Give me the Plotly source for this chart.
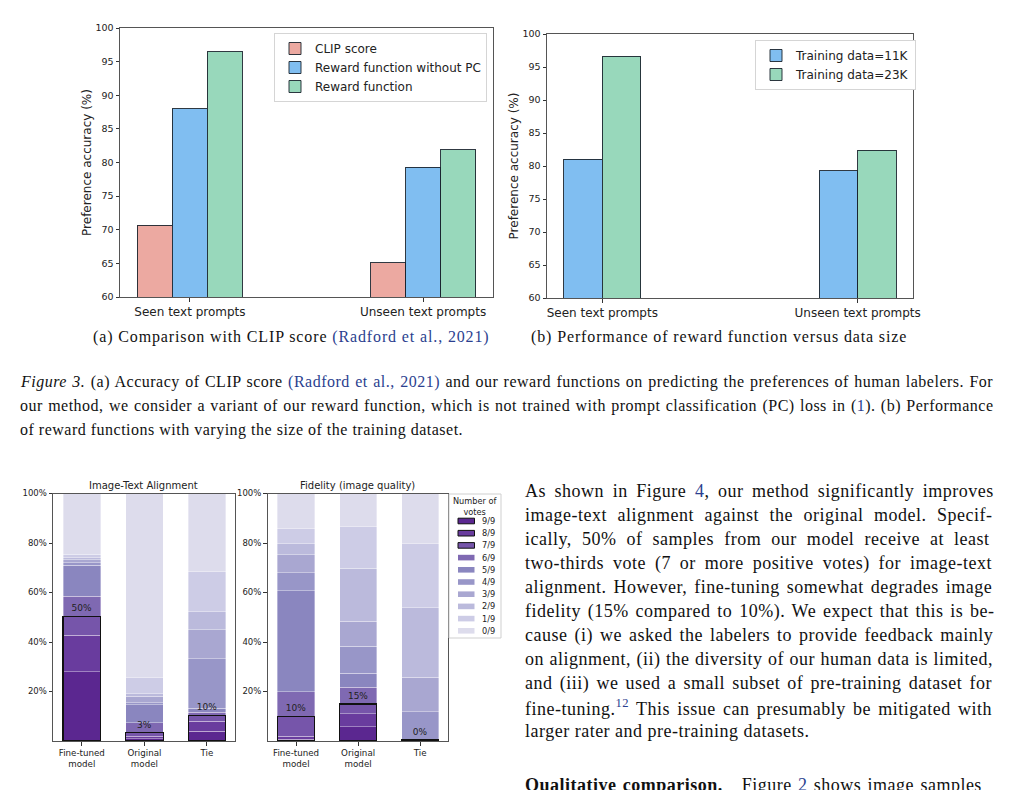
import plotly.graph_objects as go

# page is 1013x790; the html body adds an 8px margin, so the figure is placed at (8, 8)
PAGE_W, PAGE_H, OFF = 1013, 790, 8
W, H = PAGE_W - OFF, PAGE_H - OFF

# ---------------- data ----------------
# (a) Comparison with CLIP score
prompt_groups = ["Seen text prompts", "Unseen text prompts"]
clip_score = [70.7, 65.1]
reward_no_pc = [88.0, 79.3]
reward_fn = [96.5, 81.9]

# (b) Performance versus data size
data_11k = [81.0, 79.3]
data_23k = [96.6, 82.4]

# Figure 4: vote distributions, ordered 9/9 ... 0/9 (percent)
vote_labels = ["9/9", "8/9", "7/9", "6/9", "5/9", "4/9", "3/9", "2/9", "1/9", "0/9"]
model_labels = ["Fine-tuned<br>model", "Original<br>model", "Tie"]
align_finetuned = [28.0, 14.8, 7.6, 8.0, 12.6, 1.0, 1.3, 0.8, 1.4, 24.5]
align_original = [1.0, 1.0, 1.3, 4.0, 7.4, 0.8, 2.6, 0.9, 6.5, 74.5]
align_tie = [4.0, 3.9, 2.5, 1.2, 1.6, 20.1, 11.7, 7.3, 16.0, 31.7]
fid_finetuned = [0.8, 1.2, 8.0, 10.0, 40.8, 7.1, 7.3, 4.6, 6.0, 14.2]
fid_original = [5.7, 5.3, 4.0, 6.7, 5.7, 10.9, 10.1, 21.5, 16.7, 13.4]
fid_tie = [0.1, 0.1, 0.2, 0.1, 0.2, 11.1, 14.0, 28.0, 26.0, 20.2]
pct_ticks = [20, 40, 60, 80, 100]

# ---------------- styles ----------------
vote_colors = ["#5b2790", "#693c9e", "#7655aa", "#7f69b2", "#8a86bf",
               "#9896c8", "#a9a7d1", "#bbbadc", "#cdcce6", "#dddcec"]
c_pink, c_blue, c_green = "#eca9a1", "#80bef1", "#98d8bb"
edge = "rgba(25,35,45,0.9)"
SANS = "DejaVu Sans"
SERIF = "Liberation Serif"
LINK = "#2b3f8f"


def px(x):
    return (x - OFF) / W


def py(y):
    return 1 - (y - OFF) / H


fig = go.Figure()

# ---- top-left bars ----
for name, vals, col, off in [("CLIP score", clip_score, c_pink, -0.225),
                             ("Reward function without PC", reward_no_pc, c_blue, -0.075),
                             ("Reward function", reward_fn, c_green, 0.075)]:
    fig.add_trace(go.Bar(x=prompt_groups, y=vals, base=0, width=0.15, offset=off,
                         name=name, marker=dict(color=col, line=dict(color=edge, width=1)),
                         xaxis="x", yaxis="y", legend="legend"))

# ---- top-right bars ----
for name, vals, col, off in [("Training data=11K", data_11k, c_blue, -0.15),
                             ("Training data=23K", data_23k, c_green, 0.0)]:
    fig.add_trace(go.Bar(x=prompt_groups, y=vals, base=0, width=0.15, offset=off,
                         name=name, marker=dict(color=col, line=dict(color=edge, width=1)),
                         xaxis="x2", yaxis="y2", legend="legend2"))


# ---- bottom stacked bars ----
def add_votes(series, xa, ya):
    for i, lab in enumerate(vote_labels):
        fig.add_trace(go.Bar(x=model_labels, y=[s[i] for s in series], name=lab, width=0.6,
                             marker=dict(color=vote_colors[i], line=dict(color="rgba(255,255,255,0.6)", width=0.6)),
                             xaxis=xa, yaxis=ya, showlegend=False))
    totals = [sum(s[:3]) for s in series]
    fig.add_trace(go.Bar(x=model_labels, y=totals, base=[0] * len(totals), width=0.6,
                         marker=dict(color="rgba(0,0,0,0)", line=dict(color="#111", width=1.3)),
                         text=[f"{t:.0f}%" for t in totals], textposition="outside",
                         textfont=dict(family=SANS, size=9, color="#222"), cliponaxis=False,
                         showlegend=False, xaxis=xa, yaxis=ya))


add_votes([align_finetuned, align_original, align_tie], "x3", "y3")
add_votes([fid_finetuned, fid_original, fid_tie], "x4", "y4")

axis_common = dict(showline=True, mirror=True, linecolor="#555", linewidth=1, ticks="outside",
                   ticklen=3.5, tickwidth=0.8, tickcolor="#333", showgrid=False, zeroline=False,
                   automargin=False)

fig.update_layout(
    width=W, height=H, margin=dict(l=0, r=0, t=0, b=0, autoexpand=False),
    paper_bgcolor="white", plot_bgcolor="white", barmode="stack",
    font=dict(family=SANS, color="#222"),
    xaxis=dict(domain=[px(120), px(493)], anchor="y", range=[-0.3, 1.3],
               tickfont=dict(size=12, color="#222"), **axis_common),
    yaxis=dict(domain=[py(297), py(28)], anchor="x", range=[60, 100], dtick=5,
               tickfont=dict(size=9.5, color="#222"),
               title=dict(text="Preference accuracy (%)", font=dict(size=12, color="#222"), standoff=1),
               **axis_common),
    xaxis2=dict(domain=[px(547), px(913)], anchor="y2", range=[-0.2165, 1.2165],
                tickfont=dict(size=12, color="#222"), **axis_common),
    yaxis2=dict(domain=[py(298), py(34)], anchor="x2", range=[60, 100], dtick=5,
                tickfont=dict(size=9.5, color="#222"),
                title=dict(text="Preference accuracy (%)", font=dict(size=12, color="#222"), standoff=1),
                **axis_common),
    xaxis3=dict(domain=[px(53), px(234.5)], anchor="y3", range=[-0.46, 2.44],
                tickfont=dict(size=8.7, color="#222"), **axis_common),
    yaxis3=dict(domain=[py(741), py(493.5)], anchor="x3", range=[0, 100],
                tickvals=pct_ticks, ticktext=[f"{v}%" for v in pct_ticks],
                tickfont=dict(size=8.5, color="#222"), **axis_common),
    xaxis4=dict(domain=[px(267.5), px(447.5)], anchor="y4", range=[-0.46, 2.44],
                tickfont=dict(size=8.7, color="#222"), **axis_common),
    yaxis4=dict(domain=[py(741), py(493.5)], anchor="x4", range=[0, 100],
                tickvals=pct_ticks, ticktext=[f"{v}%" for v in pct_ticks],
                tickfont=dict(size=8.5, color="#222"), **axis_common),
    legend=dict(x=px(274), y=py(33), xanchor="left", yanchor="top", bgcolor="white",
                bordercolor="#d5d5d5", borderwidth=1, font=dict(size=12, color="#222"),
                traceorder="normal", tracegroupgap=0),
    legend2=dict(x=px(755), y=py(40), xanchor="left", yanchor="top", bgcolor="white",
                 bordercolor="#d5d5d5", borderwidth=1, font=dict(size=12, color="#222"),
                 traceorder="normal"),
)

ann = []
shapes = []
# subplot titles
ann.append(dict(text="Image-Text Alignment", xref="x3 domain", yref="y3 domain", x=0.5, y=1,
                xanchor="center", yanchor="bottom", yshift=1, showarrow=False,
                font=dict(family=SANS, size=10, color="#222")))
ann.append(dict(text="Fidelity (image quality)", xref="x4 domain", yref="y4 domain", x=0.5, y=1,
                xanchor="center", yanchor="bottom", yshift=1, showarrow=False,
                font=dict(family=SANS, size=10, color="#222")))

# "Number of votes" key beside the fidelity panel
lg_left, lg_top, lg_right, lg_bottom = 449, 494, 501, 638
shapes.append(dict(type="rect", xref="paper", yref="paper", x0=px(lg_left), x1=px(lg_right),
                   y0=py(lg_bottom), y1=py(lg_top), line=dict(color="#cfcfcf", width=1),
                   fillcolor="white", layer="above"))
ann.append(dict(text="Number of<br>votes", xref="paper", yref="paper", x=px((lg_left + lg_right) / 2),
                y=py(494), xanchor="center", yanchor="top", showarrow=False,
                font=dict(family=SANS, size=8.2, color="#222")))
for i, lab in enumerate(vote_labels):
    yc = 521 + 12.2 * i
    shapes.append(dict(type="rect", xref="paper", yref="paper", x0=px(458), x1=px(474.5),
                       y0=py(yc + 2.8), y1=py(yc - 2.8), fillcolor=vote_colors[i],
                       line=dict(color="#111" if i < 3 else vote_colors[i], width=1 if i < 3 else 0),
                       layer="above"))
    ann.append(dict(text=lab, xref="paper", yref="paper", x=px(480), y=py(yc), xanchor="left",
                    yanchor="middle", showarrow=False, font=dict(family=SANS, size=8.2, color="#222")))


def text_line(txt, x, y, size, anchor="left", ls=0.5, ws=0.0):
    ann.append(dict(text=f"<span style='letter-spacing:{ls}px;word-spacing:{ws}px'>{txt}</span>",
                    xref="paper", yref="paper", x=px(x), y=py(y), xanchor=anchor, yanchor="middle",
                    showarrow=False, align="left", font=dict(family=SERIF, size=size, color="#111")))


text_line(f"(a) Comparison with CLIP score <span style='color:{LINK}'>(Radford et al., 2021)</span>",
          291, 337, 16, "center", ls=0.87)
text_line("(b) Performance of reward function versus data size", 719, 337, 16, "center", ls=0.87)

cap = [
    f"<i>Figure 3.</i> (a) Accuracy of CLIP score <span style='color:{LINK}'>(Radford et al., 2021)</span> and our reward functions on predicting the preferences of human labelers. For",
    f"our method, we consider a variant of our reward function, which is not trained with prompt classification (PC) loss in (<span style='color:{LINK}'>1</span>). (b) Performance",
    "of reward functions with varying the size of the training dataset.",
]
cap_ws = [0.9, 0.8, 0.0]
for i, t in enumerate(cap):
    text_line(t, 18, 382 + 24 * i, 16, ws=cap_ws[i])

body = [
    f"As shown in Figure <span style='color:{LINK}'>4</span>, our method significantly improves",
    "image-text alignment against the original model. Specif-",
    "ically, 50% of samples from our model receive at least",
    "two-thirds vote (7 or more positive votes) for image-text",
    "alignment. However, fine-tuning somewhat degrades image",
    "fidelity (15% compared to 10%). We expect that this is be-",
    "cause (i) we asked the labelers to provide feedback mainly",
    "on alignment, (ii) the diversity of our human data is limited,",
    "and (iii) we used a small subset of pre-training dataset for",
    f"fine-tuning.<sup><span style='color:{LINK}'>12</span></sup> This issue can presumably be mitigated with",
    "larger rater and pre-training datasets.",
]
body_ws = [3.6, 5.5, 5.1, 3.95, 2.0, 1.8, 2.0, 0.5, 2.2, 2.25, 0.0]
for i, t in enumerate(body):
    text_line(t, 523, 491 + 24 * i, 18, ws=body_ws[i])
text_line(f"<b>Qualitative comparison.</b>   Figure <span style='color:{LINK}'>2</span> shows image samples",
          523, 785, 18, ws=1.3)

fig.update_layout(annotations=ann, shapes=shapes)
fig.write_html("out.html")
